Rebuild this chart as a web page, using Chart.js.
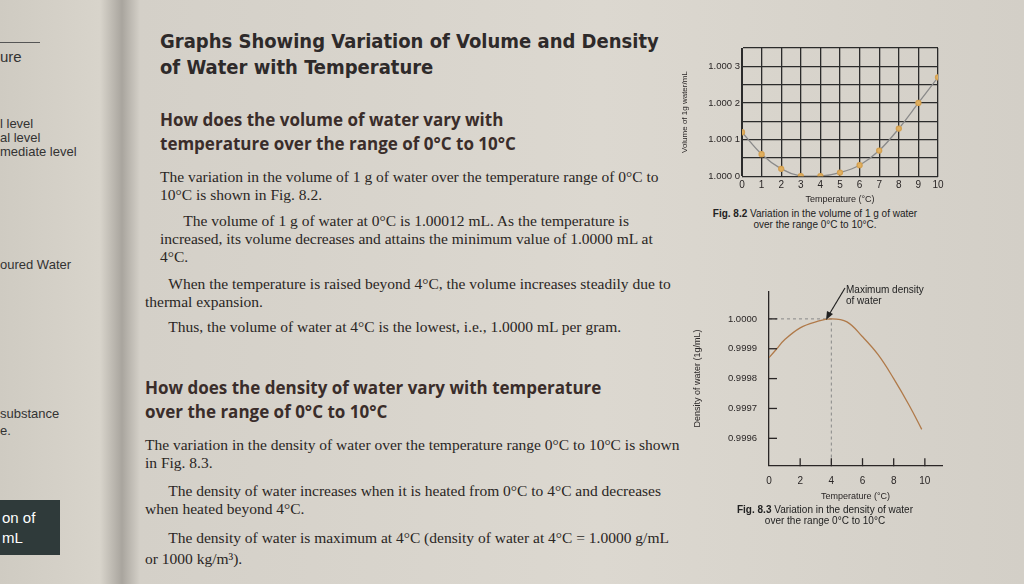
<!DOCTYPE html>
<html>
<head>
<meta charset="utf-8">
<script src="https://cdn.jsdelivr.net/npm/chart.js@4.4.0/dist/chart.umd.min.js"></script>
<style>
  body { margin:0; width:1024px; height:584px; overflow:hidden; position:relative;
         background: linear-gradient(90deg,#cfcbc2 0,#d8d4cb 100px,#a9a59e 122px,#d4d0c8 140px,#dcd8d0 600px,#d3cfc7 1024px);
         font-family:"Liberation Serif",serif; color:#2a2624; }
  .abs { position:absolute; }
  h1 { position:absolute; left:160px; top:28px; margin:0; font:bold 20px "DejaVu Sans Condensed","DejaVu Sans",sans-serif; line-height:26px; color:#2e2a2a; }
  h2 { position:absolute; left:160px; margin:0; font:bold 17px "Open Sans",sans-serif; line-height:24px; color:#3a2d2a; }
  p { position:absolute; left:145px; margin:0; width:540px; font-size:15.5px; line-height:18px; }
  .side { font:13px "Liberation Sans",sans-serif; color:#333; }
  .cap { font:10px "Liberation Sans",sans-serif; color:#222; text-align:center; }
  canvas { position:absolute; }
</style>
</head>
<body>
<div class="abs side" style="left:0;top:48px;font-size:15px">ure</div>
<div class="abs" style="left:0;top:42px;width:40px;border-top:1px solid #555"></div>
<div class="abs side" style="left:0;top:117px;line-height:14px">l level<br>al level<br>mediate level</div>
<div class="abs side" style="left:0;top:257px">oured Water</div>
<div class="abs side" style="left:0;top:405px;line-height:17px">substance<br>e.</div>
<div class="abs" style="left:0;top:500px;width:60px;height:55px;background:#2f3a3a"></div>
<div class="abs side" style="left:2px;top:508px;color:#fff;font-size:15px;line-height:20px">on of<br>mL</div>

<h1>Graphs Showing Variation of Volume and Density<br>of Water with Temperature</h1>
<h2 style="top:108px">How does the volume of water vary with<br>temperature over the range of 0°C to 10°C</h2>
<p style="top:168px;left:160px;width:500px">The variation in the volume of 1 g of water over the temperature range of 0°C to 10°C is shown in Fig. 8.2.</p>
<p style="top:212px;left:160px;width:500px">&nbsp;&nbsp;&nbsp;&nbsp;&nbsp;&nbsp;The volume of 1 g of water at 0°C is 1.00012 mL. As the temperature is increased, its volume decreases and attains the minimum value of 1.0000 mL at 4°C.</p>
<p style="top:275px;left:145px;width:540px">&nbsp;&nbsp;&nbsp;&nbsp;&nbsp;&nbsp;When the temperature is raised beyond 4°C, the volume increases steadily due to thermal expansion.</p>
<p style="top:318px;left:145px;width:540px">&nbsp;&nbsp;&nbsp;&nbsp;&nbsp;&nbsp;Thus, the volume of water at 4°C is the lowest, i.e., 1.0000 mL per gram.</p>
<h2 style="top:376px;left:145px">How does the density of water vary with temperature<br>over the range of 0°C to 10°C</h2>
<p style="top:436px">The variation in the density of water over the temperature range 0°C to 10°C is shown in Fig. 8.3.</p>
<p style="top:482px">&nbsp;&nbsp;&nbsp;&nbsp;&nbsp;&nbsp;The density of water increases when it is heated from 0°C to 4°C and decreases when heated beyond 4°C.</p>
<p style="top:527px;line-height:21px">&nbsp;&nbsp;&nbsp;&nbsp;&nbsp;&nbsp;The density of water is maximum at 4°C (density of water at 4°C = 1.0000 g/mL or 1000 kg/m³).</p>

<canvas id="vol" style="left:680px;top:40px" width="270" height="165"></canvas>
<div class="abs cap" style="left:680px;top:208px;width:270px;font-size:10px">
  <b>Fig. 8.2</b> Variation in the volume of 1 g of water<br>over the range 0°C to 10°C.</div>

<canvas id="den" style="left:690px;top:280px" width="270" height="226"></canvas>
<div class="abs cap" style="left:846px;top:284px;text-align:left;line-height:11px">Maximum density<br>of water</div>
<svg class="abs" style="left:690px;top:280px" width="270" height="60">
  <line x1="155" y1="8" x2="140" y2="33" stroke="#222" stroke-width="1.2"/>
  <polygon points="136,40 137,31 143,34" fill="#222"/>
</svg>
<div class="abs cap" style="left:700px;top:504px;width:250px"><b>Fig. 8.3</b> Variation in the density of water<br>over the range 0°C to 10°C</div>

<script>
// Fig 8.2 volume of 1 g water
const volTemps = [0,1,2,3,4,5,6,7,8,9,10];
const volValues = [1.00012,1.00006,1.00002,1.00000,1.00000,1.00001,1.00003,1.00007,1.00013,1.00020,1.00027];
const volTicks = [1.0000,1.0001,1.0002,1.0003];

// Fig 8.3 density of water
const denTemps = [0,0.5,1,2,3,4,5,6,7,8,9,9.8];
const denValues = [0.99987,0.99990,0.99993,0.99997,0.99999,1.00000,0.99999,0.99994,0.99988,0.99980,0.99971,0.99963];
const denTicks = [0.9996,0.9997,0.9998,0.9999,1.0000];
const denXTicks = [0,2,4,6,8,10];

const tickFont = { family:"Liberation Sans", size:9 };
const ink = "#2a2626";

function fixWidth(w) { return s => { s.width = w; }; }

// short tick marks drawn inside the axes, like the printed figure
const innerTicks = {
  id: "innerTicks",
  afterDraw(chart) {
    const { ctx, scales: { x, y } } = chart;
    ctx.save();
    ctx.strokeStyle = ink;
    ctx.lineWidth = 1.3;
    denTicks.forEach(v => {
      const py = y.getPixelForValue(v);
      ctx.beginPath(); ctx.moveTo(x.left - 1, py); ctx.lineTo(x.left + 8, py); ctx.stroke();
    });
    denXTicks.slice(1).forEach(v => {
      const px = x.getPixelForValue(v);
      ctx.beginPath(); ctx.moveTo(px, y.bottom + 1); ctx.lineTo(px, y.bottom - 7); ctx.stroke();
    });
    ctx.restore();
  }
};

new Chart(document.getElementById("vol"), {
  type: "line",
  data: { datasets: [{
    data: volTemps.map((t,i) => ({x:t, y:volValues[i]})),
    borderColor:"#8a8a8a", borderWidth:1.3, tension:0.35,
    pointBackgroundColor:"#e0b060", pointBorderColor:"#d4a050", pointRadius:2.5
  }]},
  options: {
    responsive:false, animation:false,
    layout:{ padding:{ top:8, right:12 } },
    plugins:{ legend:{display:false}, tooltip:{enabled:false} },
    scales:{
      x:{ type:"linear", min:0, max:10,
          ticks:{ stepSize:1, color:ink, font:{family:"Liberation Sans",size:10}, padding:3 },
          grid:{ color:"#2b2b2b", lineWidth:1.3, drawTicks:false },
          border:{ color:"#2b2b2b" },
          title:{ display:true, text:"Temperature (°C)", color:ink, font:tickFont, padding:0 } },
      y:{ min:1.0000, max:1.00035, afterFit:fixWidth(62),
          afterBuildTicks: s => { s.ticks = []; for (let k = 0; k <= 7; k++) s.ticks.push({value:1 + k * 0.00005}); },
          ticks:{ color:ink, font:{family:"Liberation Sans",size:9.5}, padding:2,
                  callback: v => volTicks.some(t => Math.abs(t - v) < 1e-7) ? v.toFixed(4).replace(/(\d)$/, " $1") : "" },
          grid:{ color:"#2b2b2b", lineWidth:1.3, drawTicks:false },
          border:{ color:"#2b2b2b" },
          title:{ display:true, text:"Volume of 1g water/mL", color:ink, font:{family:"Liberation Sans",size:8}, padding:0 } }
    }
  }
});

new Chart(document.getElementById("den"), {
  type: "line",
  data: { datasets: [
    { data: denTemps.map((t,i) => ({x:t, y:denValues[i]})),
      borderColor:"#b07a4a", borderWidth:1.3, tension:0.4, pointRadius:0 },
    { data:[{x:0,y:1.0000},{x:4,y:1.0000},{x:4,y:0.99951}],
      borderColor:"#888", borderWidth:1, borderDash:[3,3], pointRadius:0 }
  ]},
  options: {
    responsive:false, animation:false,
    layout:{ padding:{ top:12, right:18 } },
    plugins:{ legend:{display:false}, tooltip:{enabled:false} },
    scales:{
      x:{ type:"linear", min:0, max:11.1,
          afterBuildTicks: s => { s.ticks = denXTicks.map(v => ({value:v})); },
          ticks:{ color:ink, font:{family:"Liberation Sans",size:10}, padding:2 },
          grid:{ display:false },
          border:{ color:ink, width:1.3 },
          title:{ display:true, text:"Temperature (°C)", color:ink, font:tickFont, padding:{top:2} } },
      y:{ min:0.99951, max:1.00009, afterFit:fixWidth(79),
          afterBuildTicks: s => { s.ticks = denTicks.map(v => ({value:v})); },
          ticks:{ color:ink, font:{family:"Liberation Sans",size:9.5}, padding:4, callback: v => v.toFixed(4) },
          grid:{ display:false },
          border:{ color:ink, width:1.3 },
          title:{ display:true, text:"Density of water (1g/mL)", color:ink, font:tickFont, padding:2 } }
    }
  },
  plugins:[innerTicks]
});
</script>
</body>
</html>
